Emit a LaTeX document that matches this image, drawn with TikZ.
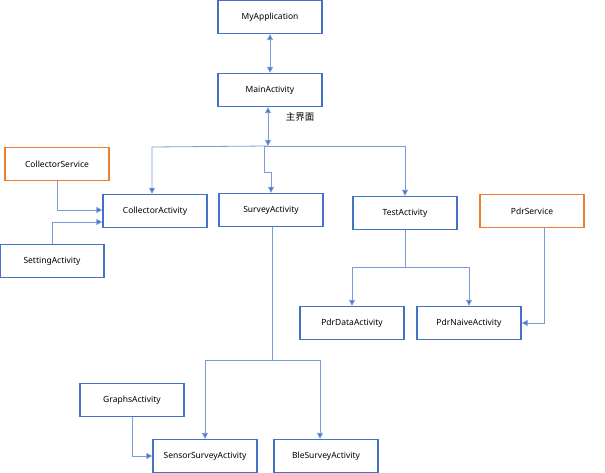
\documentclass[tikz,border=0pt]{standalone}
\usepackage{fontspec}
\setmainfont{Noto Sans}
\newfontfamily\cjk{Noto Sans CJK SC}
\usetikzlibrary{arrows.meta}
\definecolor{boxblue}{HTML}{4472C4}
\definecolor{boxorange}{HTML}{ED7D31}
\definecolor{linkblue}{HTML}{7C9CD9}
\tikzset{
    act/.style={draw=boxblue, line width=1.3pt, minimum width=104pt, minimum height=33pt, inner sep=0pt, font=\fontsize{8.5}{10}\selectfont},
    svc/.style={act, draw=boxorange},
    link/.style={draw=linkblue, line width=0.8pt, -{Triangle[length=6pt,width=6pt,fill=boxblue]}},
    both/.style={link, {Triangle[length=6pt,width=6pt,fill=boxblue]}-{Triangle[length=6pt,width=6pt,fill=boxblue]}}
}
\begin{document}
\begin{tikzpicture}[x=1pt, y=-1pt]
\useasboundingbox (0,0) rectangle (605,473);
\begin{scope}
    % Define nodes
    \node[act] (MyApp) at (270,17) {MyApplication};
    \node[act] (Main) at (270,90) {MainActivity};
    \node[svc] (ColSvc) at (57,164) {CollectorService};
    \node[act] (Col) at (155,211) {CollectorActivity};
    \node[act] (Survey) at (271,210) {SurveyActivity};
    \node[act] (Test) at (405,213) {TestActivity};
    \node[svc] (PdrSvc) at (532,211) {PdrService};
    \node[act] (Setting) at (52,261) {SettingActivity};
    \node[act] (PdrData) at (352,323) {PdrDataActivity};
    \node[act] (PdrNaive) at (469,323) {PdrNaiveActivity};
    \node[act] (Graphs) at (132,400) {GraphsActivity};
    \node[act] (Sensor) at (205,456) {SensorSurveyActivity};
    \node[act] (Ble) at (326,456) {BleSurveyActivity};
    \node[font=\cjk\fontsize{9.5}{11}\selectfont] (Label) at (300,117) {主界面};

    % Junctions
    \coordinate (Hub) at (268,146);
    \coordinate (SurveyJ) at (272,360);
    \coordinate (TestJ) at (405,267);

    \draw[both] (MyApp) -- (Main);
    \draw[both] (Main.south -| Hub) -- (Hub);
    \draw[link] (Hub) -- (152,147) -- (Col.north -| 152,0);
    \draw[link] (Hub) -| (264,172) -| (Survey.north);
    \draw[link] (Hub) -| (Test.north);
    \draw[link] (ColSvc.south) |- (Col.west |- 0,210);
    \draw[link] (Setting.north) |- (Col.west |- 0,222);
    \draw[link] (Survey.south -| SurveyJ) -- (SurveyJ) -| (Sensor.north);
    \draw[link] (SurveyJ) -| (Ble.north -| 320,0);
    \draw[link] (Test.south) -- (TestJ) -| (PdrData.north);
    \draw[link] (TestJ) -| (PdrNaive.north);
    \draw[link] (PdrSvc.south -| 544,0) |- (PdrNaive.east);
    \draw[link] (Graphs.south) |- (Sensor.west);
\end{scope}
\end{tikzpicture}
\end{document}
